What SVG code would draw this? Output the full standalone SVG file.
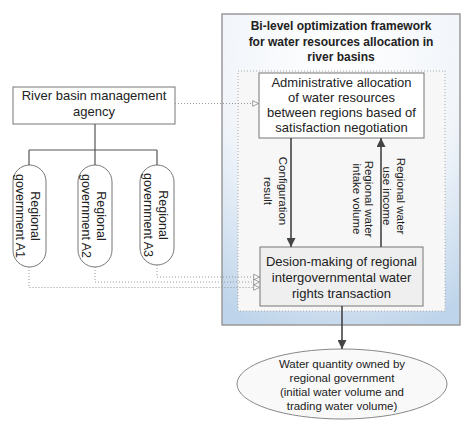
<svg xmlns="http://www.w3.org/2000/svg" width="474" height="428" viewBox="0 0 474 428">
<defs>
<radialGradient id="outerG" cx="0.5" cy="0.12" r="0.95">
<stop offset="0" stop-color="#ffffff"/>
<stop offset="0.55" stop-color="#f1f5fa"/>
<stop offset="1" stop-color="#bed4ea"/>
</radialGradient>
<marker id="solid" viewBox="0 0 10 10" refX="10" refY="5" markerWidth="9" markerHeight="9" markerUnits="userSpaceOnUse" orient="auto">
<path d="M0,0 L10,5 L0,10 Z" fill="#444"/>
</marker>
<marker id="open" viewBox="0 0 10 10" refX="10" refY="5" markerWidth="7" markerHeight="7" markerUnits="userSpaceOnUse" orient="auto">
<path d="M1,1 L9,5 L1,9 Z" fill="#fff" stroke="#777" stroke-width="1"/>
</marker>
<style>
text{font-family:"Liberation Sans",Arial,sans-serif;fill:#222;text-anchor:middle}
.t13{font-size:13px}
.t12{font-size:12.5px}
.t11{font-size:11.5px}
.title{font-size:12px;font-weight:bold}
.box{fill:#fff;stroke:#777;stroke-width:1}
.line{fill:none;stroke:#555;stroke-width:1.2}
.arrow{fill:none;stroke:#444;stroke-width:1.6}
.dot{fill:none;stroke:#999;stroke-width:1;stroke-dasharray:1 2}
</style>
</defs>
<rect width="474" height="428" fill="#fff"/>

<g id="framework">
<rect x="222" y="14" width="238" height="311" fill="url(#outerG)" stroke="#999" stroke-width="1.5"/>
<text class="title" x="341" y="30">Bi-level optimization framework</text>
<text class="title" x="341" y="46">for water resources allocation in</text>
<text class="title" x="341" y="61">river basins</text>
<rect x="238" y="71" width="207" height="240" fill="#f7f7f7" stroke="#aaa" stroke-width="1" stroke-dasharray="1 2"/>
</g>

<g id="admin">
<rect class="box" x="259" y="73" width="165" height="65"/>
<text class="t13" x="341.5" y="86.5">Administrative allocation</text>
<text class="t13" x="341.5" y="101.5">of water resources</text>
<text class="t13" x="341.5" y="116.5">between regions based of</text>
<text class="t13" x="341.5" y="131.5">satisfaction negotiation</text>
</g>

<g id="decision">
<rect x="260" y="247" width="163" height="59" fill="#efefef" stroke="#777" stroke-width="1"/>
<text class="t13" x="341.5" y="265.5">Desion-making of regional</text>
<text class="t13" x="341.5" y="281.5">intergovernmental water</text>
<text class="t13" x="341.5" y="297.5">rights transaction</text>
</g>

<g id="agency">
<rect class="box" x="13" y="87" width="162" height="37"/>
<text class="t13" x="94" y="100">River basin management</text>
<text class="t13" x="94" y="116">agency</text>
</g>

<g id="a1">
<rect class="box" x="13" y="165" width="33" height="102" rx="16.5" ry="16.5"/>
<text class="t12" transform="translate(29,216) rotate(90)"><tspan x="0" y="-2">Regional</tspan><tspan x="0" y="13.5">government A1</tspan></text>
</g>
<g id="a2">
<rect class="box" x="78" y="165" width="34" height="102" rx="17" ry="17"/>
<text class="t12" transform="translate(95,216) rotate(90)"><tspan x="0" y="-2">Regional</tspan><tspan x="0" y="13.5">government A2</tspan></text>
</g>
<g id="a3">
<rect class="box" x="140" y="165" width="34" height="100" rx="17" ry="17"/>
<text class="t12" transform="translate(157,215) rotate(90)"><tspan x="0" y="-2">Regional</tspan><tspan x="0" y="13.5">government A3</tspan></text>
</g>

<g id="result">
<ellipse cx="342" cy="384" rx="105" ry="35" fill="#f9f9f9" stroke="#888" stroke-width="1"/>
<text class="t11" x="342" y="368">Water quantity owned by</text>
<text class="t11" x="342" y="382">regional government</text>
<text class="t11" x="342" y="396">(initial water volume and</text>
<text class="t11" x="342" y="410">trading water volume)</text>
</g>

<g id="connectors">
<path class="line" d="M95,124 V150 M29,150 H157 M29,150 V165 M95,150 V165 M157,150 V165"/>
<path class="dot" d="M175,103.5 H259" marker-end="url(#open)"/>
<path class="dot" d="M157,265 V277 H260" marker-end="url(#open)"/>
<path class="dot" d="M95,267 V282 H260" marker-end="url(#open)"/>
<path class="dot" d="M29,267 V287.5 H260" marker-end="url(#open)"/>
<path class="arrow" d="M291,138 V247" marker-end="url(#solid)"/>
<path class="arrow" d="M381,247 V138" marker-end="url(#solid)"/>
<path class="arrow" d="M342,306 V349" marker-end="url(#solid)"/>
<text class="t11" transform="translate(279,191) rotate(90)"><tspan x="0" y="0">Configuration</tspan><tspan x="0" y="15">result</tspan></text>
<text class="t11" transform="translate(397,196) rotate(90)"><tspan x="0" y="0">Regional water</tspan><tspan x="0" y="14">use income</tspan></text>
<text class="t11" transform="translate(365,199) rotate(90)"><tspan x="0" y="0">Regional water</tspan><tspan x="0" y="12">intake volume</tspan></text>
</g>
</svg>
